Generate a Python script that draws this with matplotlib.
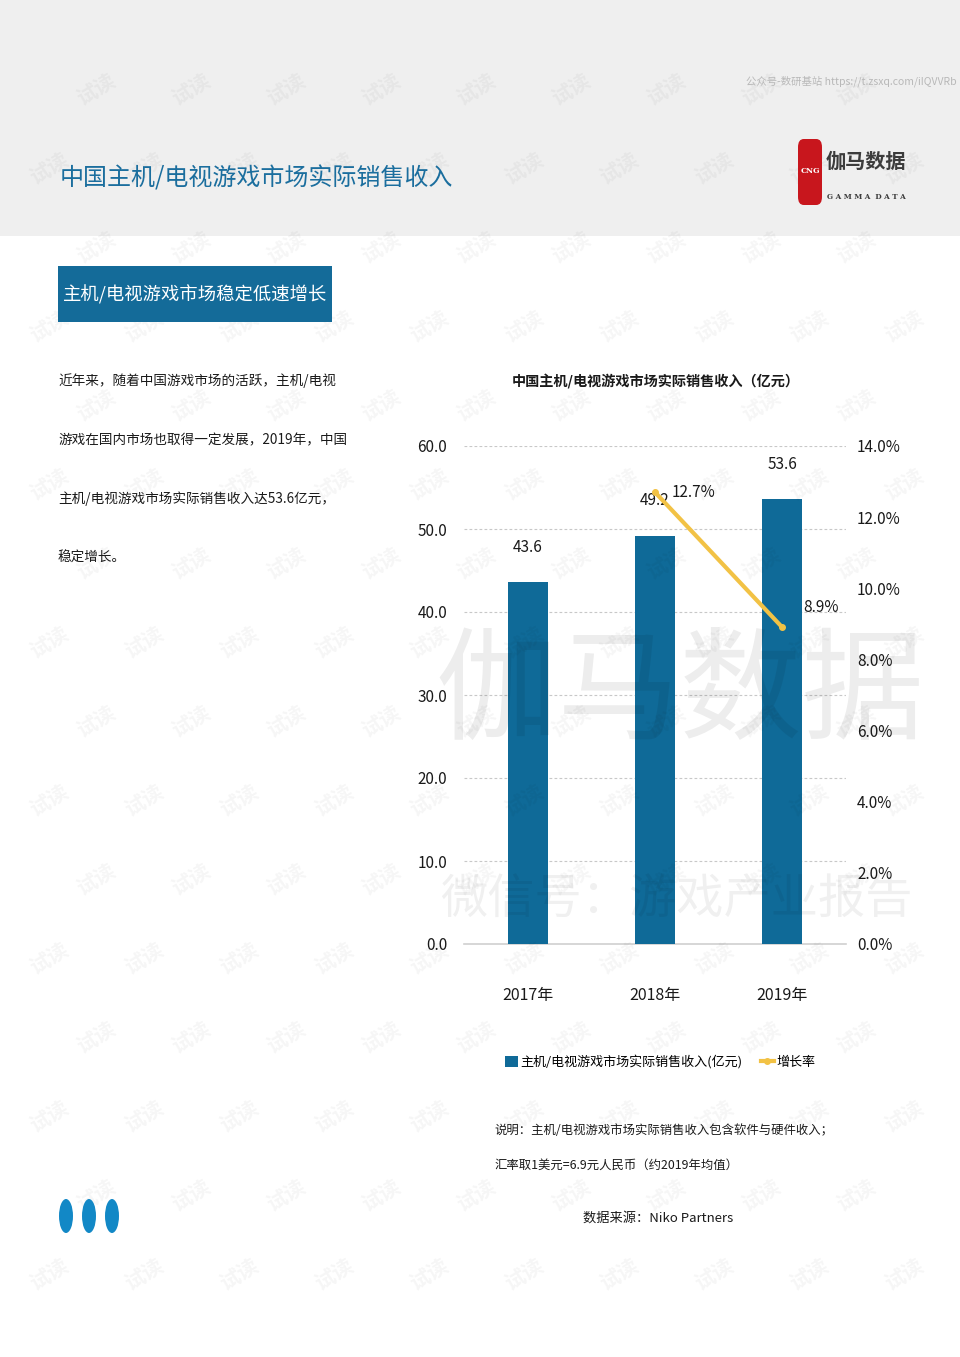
import numpy as np
import matplotlib
matplotlib.use("Agg")
import matplotlib.pyplot as plt
from matplotlib.patches import Rectangle, FancyBboxPatch, Ellipse, Patch
from matplotlib.lines import Line2D

plt.rcParams['font.family'] = ['Noto Sans CJK SC', 'DejaVu Sans']

# data
years = ['2017年', '2018年', '2019年']
revenue = [43.6, 49.2, 53.6]          # 亿元
growth = [np.nan, 12.7, 8.9]          # %
left_ticks = [0, 10, 20, 30, 40, 50, 60]
right_ticks = [0, 2, 4, 6, 8, 10, 12, 14]

W, H = 960, 1357
BLUE = '#0f6a98'
GOLD = '#f2c245'


def fx(x):
    return x / W


def fy(y):
    return 1 - y / H


fig = plt.figure(figsize=(9.6, 13.57), dpi=100)
fig.patch.set_facecolor('white')

# header band
fig.patches.append(Rectangle((0, fy(236)), 1, 236 / H, transform=fig.transFigure,
                             facecolor='#efefef', edgecolor='none', zorder=0))

# faint "试读" watermarks (only the ones that fit on the page)
for r, yy in enumerate(range(10, 1400, 79)):
    x0 = 50 if r % 2 == 0 else 97
    for xx in range(x0 - 95, 1000, 95):
        if 25 <= xx <= 935 and 25 <= yy <= 1335:
            fig.text(fx(xx), fy(yy), '试读', fontsize=15, fontweight='bold', color='black',
                     alpha=0.04, rotation=30, ha='center', va='center', zorder=0.5)

# big watermark behind chart
fig.text(fx(680), fy(695), '伽马数据', fontsize=88, color='black', alpha=0.07,
         ha='center', va='center', zorder=0.6)
fig.text(fx(676), fy(900), '微信号：游戏产业报告', fontsize=34, color='black', alpha=0.06,
         ha='center', va='center', zorder=0.6)

# title
fig.text(fx(60), fy(178), '中国主机/电视游戏市场实际销售收入', fontsize=17.3, color='#1b6e9e',
         ha='left', va='center')

# top-right note
fig.text(fx(957), fy(81), '公众号-数研基站 https://t.zsxq.com/iIQVVRb', fontsize=7.5,
         color='#b8b8b8', ha='right', va='center')

# logo
fig.patches.append(FancyBboxPatch((fx(798), fy(205)), 24 / W, 66 / H,
                                  boxstyle='round,pad=0.0,rounding_size=0.006',
                                  transform=fig.transFigure, facecolor='#c8161d',
                                  edgecolor='none', zorder=2))
fig.text(fx(810), fy(171), 'CNG', fontsize=5.5, fontweight='bold', color='white',
         ha='center', va='center', zorder=3, family='DejaVu Serif')
fig.text(fx(866), fy(161), '伽马数据', fontsize=14.5, fontweight='bold', color='#3c3c3c',
         ha='center', va='center')
fig.text(fx(866), fy(197), 'G A M M A  D A T A', fontsize=5.2, fontweight='bold',
         color='#3c3c3c', ha='center', va='center', family='DejaVu Serif')

# subtitle box
fig.patches.append(Rectangle((fx(58), fy(322)), 274 / W, 56 / H, transform=fig.transFigure,
                             facecolor='#146b99', edgecolor='none', zorder=2))
fig.text(fx(195), fy(295), '主机/电视游戏市场稳定低速增长', fontsize=13.2, color='white',
         ha='center', va='center', zorder=3)

# paragraph
para = ['近年来，随着中国游戏市场的活跃，主机/电视',
        '游戏在国内市场也取得一定发展，2019年，中国',
        '主机/电视游戏市场实际销售收入达53.6亿元，',
        '稳定增长。']
for i, line in enumerate(para):
    fig.text(fx(58), fy(381 + i * 59), line, fontsize=9.8, color='#1a1a1a',
             ha='left', va='center')

# chart
ax = fig.add_axes([fx(464), fy(944), (846 - 464) / W, (944 - 446) / H])
ax.patch.set_visible(False)
x = np.arange(len(years))
ax.bar(x, revenue, width=0.315, color=BLUE, zorder=3)
ax.set_xlim(-0.5, 2.5)
ax.set_ylim(0, 60)
ax.set_yticks(left_ticks)
ax.set_yticklabels(['%.1f' % v for v in left_ticks])
ax.set_xticks(x)
ax.set_xticklabels(years)
for v in left_ticks[1:]:
    ax.axhline(v, color='#c8c8c8', lw=0.8, ls=(0, (2.5, 2)), zorder=1)
for s in ['top', 'right', 'left']:
    ax.spines[s].set_visible(False)
ax.spines['bottom'].set_color('#d0d0d0')
ax.spines['bottom'].set_linewidth(1.2)
ax.tick_params(axis='y', length=0, pad=12, labelsize=11, labelcolor='#1a1a1a')
ax.tick_params(axis='x', length=0, pad=31, labelsize=11.5, labelcolor='#1a1a1a')
for xi, v in zip(x, revenue):
    ax.annotate('%.1f' % v, (xi, v), xytext=(0, 25), textcoords='offset points',
                ha='center', va='center', fontsize=11, color='#1a1a1a')

ax2 = ax.twinx()
ax2.set_ylim(0, 14)
ax2.set_yticks(right_ticks)
ax2.set_yticklabels(['%.1f%%' % v for v in right_ticks])
for s in ['top', 'right', 'left', 'bottom']:
    ax2.spines[s].set_visible(False)
ax2.tick_params(axis='y', length=0, pad=8, labelsize=11, labelcolor='#1a1a1a')
ax2.plot(x, growth, color=GOLD, lw=3, marker='o', ms=4, zorder=5)
label_off = {1: (28, 0), 2: (28, 14)}
for xi, g in zip(x, growth):
    if not np.isnan(g):
        ax2.annotate('%.1f%%' % g, (xi, g), xytext=label_off[xi], textcoords='offset points',
                     ha='center', va='center', fontsize=11, color='#1a1a1a')

# chart title
fig.text(fx(656), fy(382), '中国主机/电视游戏市场实际销售收入（亿元）', fontsize=10.2,
         fontweight='bold', color='#1a1a1a', ha='center', va='center')

# legend
handles = [Patch(facecolor=BLUE, edgecolor='none'),
           Line2D([0], [0], color=GOLD, lw=3, marker='o', ms=4)]
labels = ['主机/电视游戏市场实际销售收入(亿元)', '增长率']
fig.legend(handles, labels, loc='center', bbox_to_anchor=(fx(660), fy(1062)), ncol=2,
           frameon=False, fontsize=9.4, handlelength=1.0, handleheight=1.0,
           handletextpad=0.2, columnspacing=1.4)

# notes
fig.text(fx(494), fy(1130), '说明：主机/电视游戏市场实际销售收入包含软件与硬件收入；',
         fontsize=8.9, color='#1a1a1a', ha='left', va='center')
fig.text(fx(494), fy(1165), '汇率取1美元=6.9元人民币（约2019年均值）',
         fontsize=8.9, color='#1a1a1a', ha='left', va='center')
fig.text(fx(658), fy(1218), '数据来源：Niko Partners', fontsize=9.5, color='#1a1a1a',
         ha='center', va='center')

# three dots
for cx in [66, 89, 112]:
    fig.patches.append(Ellipse((fx(cx), fy(1216)), 14 / W, 34 / H,
                               transform=fig.transFigure, facecolor='#1288c6',
                               edgecolor='none'))

fig.savefig('out.png', dpi=100)
